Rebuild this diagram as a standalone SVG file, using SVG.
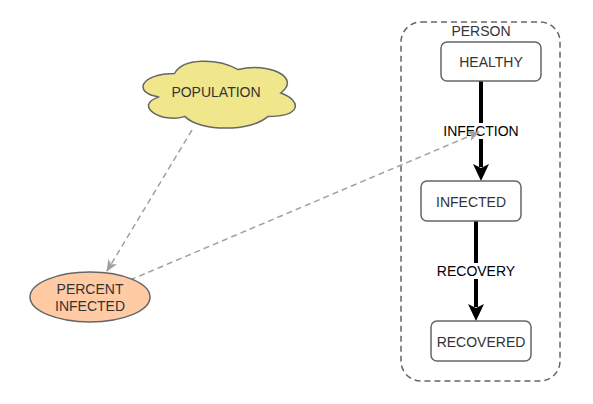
<svg xmlns="http://www.w3.org/2000/svg" width="593" height="404" viewBox="0 0 593 404">
<style>
text{font-family:"Liberation Sans",Arial,sans-serif;font-size:14px;fill:#333;text-anchor:middle;dominant-baseline:central}
.box{fill:#fff;stroke:#666;stroke-width:1.5}
.lbl{fill:#000}
.thick{stroke:#000;stroke-width:4;fill:none}
.dash{stroke:#a0a0a0;stroke-width:1.5;stroke-dasharray:6 4;fill:none}
</style>
<defs>
<marker id="ag" markerWidth="12" markerHeight="10" refX="11" refY="5" orient="auto" markerUnits="userSpaceOnUse" viewBox="0 0 12 10"><path d="M0,0 L12,5 L0,10 L3,5 Z" fill="#a0a0a0"/></marker>
</defs>
<g id="person">
<rect x="401" y="22" width="159" height="359" rx="20" fill="none" stroke="#666" stroke-width="1.5" stroke-dasharray="6 4"/>
<text x="481" y="31">PERSON</text>
</g>
<g id="connectors">
<path class="thick" d="M481,81 V167"/>
<path d="M481,181 L473,164 L481,168 L489,164 Z" fill="#000"/>
<path class="thick" d="M476,221 V307"/>
<path d="M476,321 L468,304 L476,308 L484,304 Z" fill="#000"/>
<rect x="438" y="123" width="86" height="16" fill="#fff"/>
<text class="lbl" x="481" y="131">INFECTION</text>
<rect x="438" y="263" width="76" height="16" fill="#fff"/>
<text class="lbl" x="476" y="271">RECOVERY</text>
<path class="dash" d="M192,130 L107,271" marker-end="url(#ag)"/>
<path class="dash" d="M130,280 L479,132" marker-end="url(#ag)"/>
</g>
<g id="healthy">
<rect class="box" x="441" y="42" width="100" height="39" rx="6"/>
<text x="491" y="62">HEALTHY</text>
</g>
<g id="infected">
<rect class="box" x="421" y="181" width="100" height="40" rx="6"/>
<text x="471" y="202">INFECTED</text>
</g>
<g id="recovered">
<rect class="box" x="431" y="321" width="100" height="40" rx="6"/>
<text x="481" y="342">RECOVERED</text>
</g>
<g id="population">
<path d="M174.5,73.5 C140.5,73.5 132,93 159.2,96.9 C132,105.5 162.6,124.2 184.7,116.4 C200,132 251,132 268,116.4 C302,116.4 302,100.8 280.75,93 C302,77.4 268,61.8 238.25,69.6 C217,57.9 183,57.9 174.5,73.5 Z" fill="#f0e68c" stroke="#666" stroke-width="1.5"/>
<text x="216" y="92">POPULATION</text>
</g>
<g id="percent">
<ellipse cx="90" cy="297" rx="60" ry="25" fill="#ffcba4" stroke="#666" stroke-width="1.5"/>
<text x="90" y="289">PERCENT</text>
<text x="90" y="306">INFECTED</text>
</g>
</svg>
